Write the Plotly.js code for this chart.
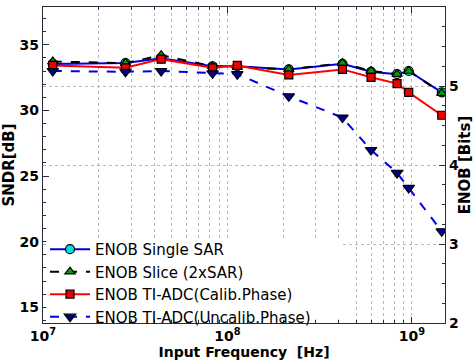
<!DOCTYPE html>
<html>
<head>
<meta charset="utf-8">
<script src="https://cdn.plot.ly/plotly-3.0.1.min.js"></script>
<style>
html,body{margin:0;padding:0;background:#fff;}
#chart{width:474px;height:361px;}
</style>
</head>
<body>
<div id="chart"></div>
<script>
// Input frequency (Hz)
const freq = [1.13e7, 2.8e7, 4.37e7, 8.3e7, 1.13e8, 2.15e8, 4.2e8, 6.0e8, 8.3e8, 9.6e8, 1.45e9];
// ENOB series (bits)
const enobSingleSAR = [5.28, 5.29, 5.35, 5.25, 5.25, 5.21, 5.28, 5.18, 5.15, 5.19, 4.92];
const enobSlice     = [5.31, 5.29, 5.39, 5.25, 5.24, 5.21, 5.29, 5.19, 5.15, 5.19, 4.91];
const enobTICalib   = [5.26, 5.23, 5.34, 5.23, 5.26, 5.14, 5.21, 5.11, 5.03, 4.92, 4.63];
const enobTIUncalib = [5.19, 5.18, 5.19, 5.16, 5.15, 4.87, 4.60, 4.19, 3.90, 3.71, 3.16];

const seriesNames = ['ENOB Single SAR', 'ENOB Slice (2xSAR)', 'ENOB TI-ADC(Calib.Phase)', 'ENOB TI-ADC(Uncalib.Phase)'];

// Tick definitions
const xMajorVals = [1e7, 1e8, 1e9];
const xMajorText = ['10<sup>7</sup>', '10<sup>8</sup>', '10<sup>9</sup>'];
const xMinorVals = [];
[1e7, 1e8, 1e9].forEach(d => { for (let k = 2; k <= 9; k++) xMinorVals.push(k * d); });
const sndrTicks = [15, 20, 25, 30, 35];
const enobTicks = [2, 3, 4, 5, 6];

const tickFont = {family: 'DejaVu Sans', size: 14, color: '#000', weight: 'bold'};
const xTitleFont = {family: 'DejaVu Sans', size: 14, color: '#000', weight: 'bold'};
const yTitleFont = {family: 'DejaVu Sans', size: 15, color: '#000', weight: 'bold'};
const axisColor = '#2a2a3a';
const gridColor = '#b8b8b8';

const traces = [
  // empty trace so the left SNDR axis is created and drawn
  {x: [null], y: [null], xaxis: 'x', yaxis: 'y', mode: 'lines', showlegend: false, hoverinfo: 'skip'},
  {x: freq, y: enobSingleSAR, name: seriesNames[0], xaxis: 'x', yaxis: 'y2', mode: 'lines+markers',
   line: {color: '#0000dd', width: 2},
   marker: {symbol: 'circle', size: 9, color: '#00e0e0', line: {color: '#000', width: 1.2}}},
  {x: freq, y: enobSlice, name: seriesNames[1], xaxis: 'x', yaxis: 'y2', mode: 'lines+markers',
   line: {color: '#000', width: 2, dash: 'dash'},
   marker: {symbol: 'triangle-up', size: 9, color: '#00a000', line: {color: '#000', width: 1.2}}},
  {x: freq, y: enobTICalib, name: seriesNames[2], xaxis: 'x', yaxis: 'y2', mode: 'lines+markers',
   line: {color: '#ff0000', width: 2},
   marker: {symbol: 'square', size: 8, color: '#ee0000', line: {color: '#000', width: 1.2}}},
  {x: freq, y: enobTIUncalib, name: seriesNames[3], xaxis: 'x', yaxis: 'y2', mode: 'lines+markers',
   line: {color: '#0000ee', width: 2, dash: 'dash'},
   marker: {symbol: 'triangle-down', size: 10, color: '#00008b', line: {color: '#000', width: 1.2}}}
];

const layout = {
  width: 474, height: 361,
  margin: {l: 43, r: 29, t: 7, b: 38, pad: 0},
  paper_bgcolor: '#fff', plot_bgcolor: '#fff',
  showlegend: true,
  legend: {x: 0.005, y: 0.285, xanchor: 'left', yanchor: 'top', bgcolor: 'rgba(0,0,0,0)', borderwidth: 0,
           font: {family: 'DejaVu Sans', size: 15, color: '#000'}, tracegroupgap: 0, itemwidth: 40},
  // white legend backdrop hiding the gridlines (no data lies in this corner)
  shapes: [{type: 'rect', xref: 'paper', yref: 'paper', x0: 0.008, x1: 0.745, y0: 0.012, y1: 0.262,
            layer: 'above', fillcolor: '#fff', line: {width: 0}}],
  xaxis: {
    type: 'log', range: [7, Math.log10(1.51e9)],
    tickmode: 'array', tickvals: xMajorVals, ticktext: xMajorText, tickfont: tickFont,
    ticks: 'inside', ticklen: 6, tickcolor: axisColor,
    showline: true, linecolor: axisColor, linewidth: 1.2, mirror: 'ticks',
    showgrid: true, gridcolor: gridColor, griddash: 'dot', gridwidth: 1,
    minor: {tickmode: 'array', tickvals: xMinorVals, ticks: 'inside', ticklen: 3, tickcolor: axisColor,
            showgrid: true, gridcolor: gridColor, griddash: 'dot', gridwidth: 1},
    zeroline: false,
    title: {text: 'Input Frequency  [Hz]', font: xTitleFont, standoff: 2}
  },
  yaxis: {
    range: [13.8, 37.88], tickmode: 'array', tickvals: sndrTicks, tickfont: tickFont,
    ticks: 'inside', ticklen: 6, tickcolor: axisColor,
    minor: {dtick: 1, ticks: 'inside', ticklen: 3, tickcolor: axisColor},
    showline: true, linecolor: axisColor, linewidth: 1.2,
    showgrid: false, zeroline: false,
    title: {text: 'SNDR[dB]', font: yTitleFont, standoff: 5}
  },
  yaxis2: {
    overlaying: 'y', anchor: 'x', side: 'right', range: [2, 6], tickmode: 'array', tickvals: enobTicks, tickfont: tickFont,
    ticks: 'inside', ticklen: 6, tickcolor: axisColor,
    minor: {dtick: 0.25, ticks: 'inside', ticklen: 3, tickcolor: axisColor},
    showline: true, linecolor: axisColor, linewidth: 1.2,
    showgrid: true, gridcolor: gridColor, griddash: 'dot', gridwidth: 1, zeroline: false,
    title: {text: 'ENOB [Bits]', font: yTitleFont, standoff: 3}
  }
};

Plotly.newPlot('chart', traces, layout, {displayModeBar: false, staticPlot: true});
</script>
</body>
</html>
